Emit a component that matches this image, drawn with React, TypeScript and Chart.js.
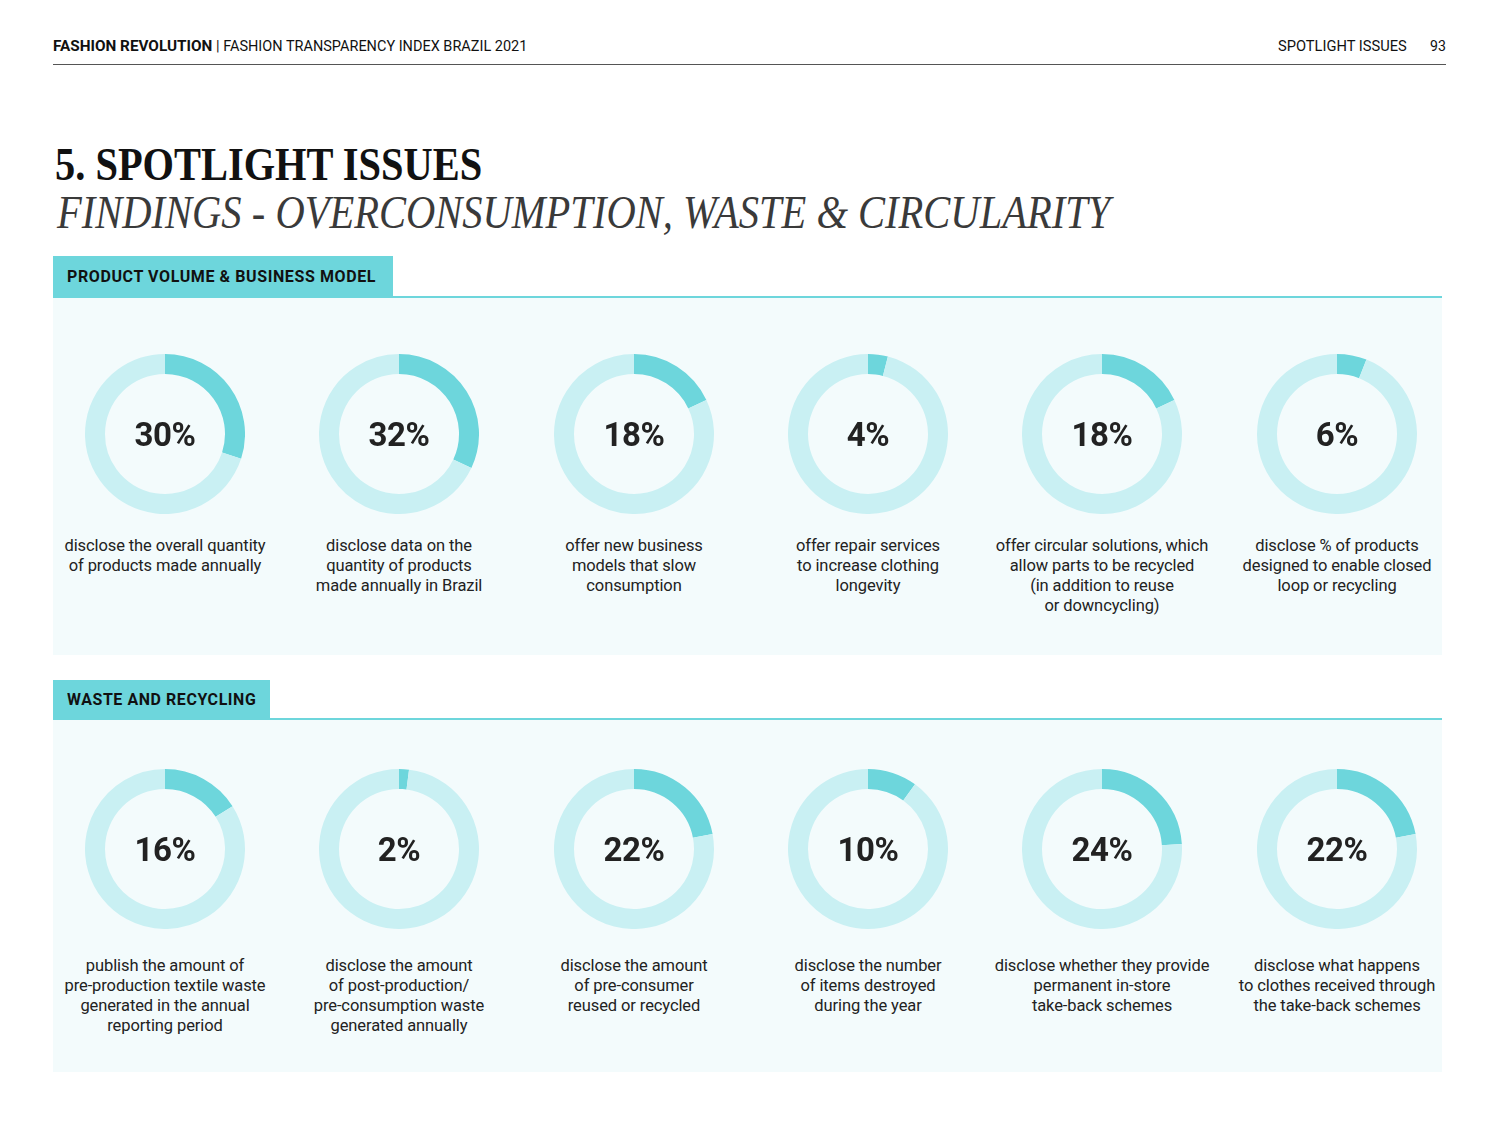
import React, { useEffect, useLayoutEffect, useRef } from "react";
import { Chart, registerables } from "chart.js";

Chart.register(...registerables);

// ---------- data ----------
const productValues = [30, 32, 18, 4, 18, 6];
const productLabels = [
  ["disclose the overall quantity", "of products made annually"],
  ["disclose data on the", "quantity of products", "made annually in Brazil"],
  ["offer new business", "models that slow", "consumption"],
  ["offer repair services", "to increase clothing", "longevity"],
  ["offer circular solutions, which", "allow parts to be recycled", "(in addition to reuse", "or downcycling)"],
  ["disclose % of products", "designed to enable closed", "loop or recycling"],
];
const wasteValues = [16, 2, 22, 10, 24, 22];
const wasteLabels = [
  ["publish the amount of", "pre-production textile waste", "generated in the annual", "reporting period"],
  ["disclose the amount", "of post-production/", "pre-consumption waste", "generated annually"],
  ["disclose the amount", "of pre-consumer", "reused or recycled"],
  ["disclose the number", "of items destroyed", "during the year"],
  ["disclose whether they provide", "permanent in-store", "take-back schemes"],
  ["disclose what happens", "to clothes received through", "the take-back schemes"],
];
const columnCenters = [165, 399, 634, 868, 1102, 1337];

const TEAL = "#6dd6dc";
const LIGHT = "#c9f0f3";
const PANEL = "#f3fbfc";
const SANS = "Roboto, 'Noto Sans', sans-serif";
const SERIF = "'Liberation Serif', 'DejaVu Serif', serif";

function FitText({ text, left, top, width, style }: any) {
  const ref = useRef<HTMLSpanElement>(null);
  useLayoutEffect(() => {
    const el = ref.current;
    if (!el) return;
    const w = el.offsetWidth;
    if (w > 0) el.style.transform = `scaleX(${width / w})`;
  }, [text, width]);
  return (
    <span
      ref={ref}
      style={{
        position: "absolute",
        left,
        top,
        whiteSpace: "nowrap",
        transformOrigin: "left top",
        display: "inline-block",
        ...style,
      }}
    >
      {text}
    </span>
  );
}

function Donut({ value, cx, cy }: { value: number; cx: number; cy: number }) {
  const ref = useRef<HTMLCanvasElement>(null);
  useEffect(() => {
    if (!ref.current) return;
    const chart = new Chart(ref.current, {
      type: "doughnut",
      data: {
        labels: ["yes", "no"],
        datasets: [
          {
            data: [value, 100 - value],
            backgroundColor: [TEAL, LIGHT],
            borderWidth: 0,
            hoverOffset: 0,
          },
        ],
      },
      options: {
        responsive: false,
        animation: false,
        cutout: "75%",
        rotation: 0,
        plugins: { legend: { display: false }, tooltip: { enabled: false } },
        layout: { padding: 0 },
      },
    });
    return () => chart.destroy();
  }, [value]);
  const size = 160;
  return (
    <div style={{ position: "absolute", left: cx - size / 2, top: cy - size / 2, width: size, height: size }}>
      <canvas ref={ref} width={size} height={size} style={{ width: size, height: size, display: "block" }} />
      <div
        style={{
          position: "absolute",
          left: 0,
          top: 0,
          width: size,
          height: size,
          display: "flex",
          alignItems: "center",
          justifyContent: "center",
          fontFamily: SANS,
          fontWeight: 700,
          fontSize: 33,
          lineHeight: "33px",
          color: "#222",
          letterSpacing: "-0.5px",
        }}
      >
        {value}%
      </div>
    </div>
  );
}

function Caption({ lines, cx, top }: { lines: string[]; cx: number; top: number }) {
  return (
    <div
      style={{
        position: "absolute",
        left: cx - 120,
        top,
        width: 240,
        textAlign: "center",
        fontFamily: SANS,
        fontSize: 16.5,
        lineHeight: "20px",
        color: "#222",
        whiteSpace: "nowrap",
        letterSpacing: "-0.1px",
      }}
    >
      {lines.map((l, i) => (
        <div key={i}>{l}</div>
      ))}
    </div>
  );
}

function Section({
  title, titleWidth, boxRight, boxTop, boxBottom, panelBottom, values, labels, donutY, captionTop,
}: any) {
  return (
    <>
      <div style={{ position: "absolute", left: 53, top: boxBottom, width: 1389, height: panelBottom - boxBottom, background: PANEL }} />
      <div style={{ position: "absolute", left: 53, top: boxTop, width: boxRight - 53, height: boxBottom - boxTop, background: TEAL }} />
      <div style={{ position: "absolute", left: boxRight, top: boxBottom - 2, width: 1442 - boxRight, height: 2, background: TEAL }} />
      <FitText
        text={title}
        left={67}
        top={(boxTop + boxBottom) / 2 - 8}
        width={titleWidth}
        style={{ fontFamily: SANS, fontWeight: 700, fontSize: 16, lineHeight: "16px", color: "#111", letterSpacing: "0.6px" }}
      />
      {values.map((v: number, i: number) => (
        <Donut key={i} value={v} cx={columnCenters[i]} cy={donutY} />
      ))}
      {labels.map((l: string[], i: number) => (
        <Caption key={i} lines={l} cx={columnCenters[i]} top={captionTop} />
      ))}
    </>
  );
}

export default function App() {
  return (
    <div style={{ position: "absolute", left: 0, top: 0, width: 1500, height: 1125, background: "#fff", overflow: "hidden" }}>
      {/* header */}
      <FitText
        text="FASHION REVOLUTION"
        left={53}
        top={39}
        width={159}
        style={{ fontFamily: SANS, fontWeight: 700, fontSize: 15, lineHeight: "15px", color: "#111" }}
      />
      <FitText
        text="| FASHION TRANSPARENCY INDEX BRAZIL 2021"
        left={216}
        top={39}
        width={311}
        style={{ fontFamily: SANS, fontWeight: 400, fontSize: 15, lineHeight: "15px", color: "#111" }}
      />
      <FitText
        text="SPOTLIGHT ISSUES"
        left={1278}
        top={39}
        width={129}
        style={{ fontFamily: SANS, fontWeight: 400, fontSize: 15, lineHeight: "15px", color: "#111" }}
      />
      <FitText
        text="93"
        left={1430}
        top={39}
        width={16}
        style={{ fontFamily: SANS, fontWeight: 400, fontSize: 15, lineHeight: "15px", color: "#111" }}
      />
      <div style={{ position: "absolute", left: 53, top: 64, width: 1393, height: 1, background: "#555" }} />

      {/* titles */}
      <FitText
        text="5. SPOTLIGHT ISSUES"
        left={55}
        top={142}
        width={427}
        style={{ fontFamily: SERIF, fontWeight: 700, fontSize: 46, lineHeight: "46px", color: "#111" }}
      />
      <FitText
        text="FINDINGS - OVERCONSUMPTION, WASTE & CIRCULARITY"
        left={57}
        top={190}
        width={1053}
        style={{ fontFamily: SERIF, fontWeight: 400, fontStyle: "italic", fontSize: 46, lineHeight: "46px", color: "#3a3a3a" }}
      />

      <Section
        title="PRODUCT VOLUME & BUSINESS MODEL"
        titleWidth={309}
        boxRight={393}
        boxTop={256}
        boxBottom={298}
        panelBottom={655}
        values={productValues}
        labels={productLabels}
        donutY={434}
        captionTop={536}
      />
      <Section
        title="WASTE AND RECYCLING"
        titleWidth={189}
        boxRight={270}
        boxTop={680}
        boxBottom={720}
        panelBottom={1072}
        values={wasteValues}
        labels={wasteLabels}
        donutY={849}
        captionTop={956}
      />
    </div>
  );
}
